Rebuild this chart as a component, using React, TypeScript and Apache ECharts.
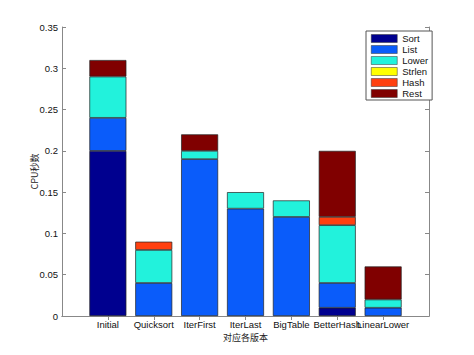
import React, { useEffect, useRef } from "react";
import * as echarts from "echarts";

const categories = ["Initial", "Quicksort", "IterFirst", "IterLast", "BigTable", "BetterHash", "LinearLower"];
const seriesNames = ["Sort", "List", "Lower", "Strlen", "Hash", "Rest"];
const sortVals = [0.2, 0, 0, 0, 0, 0.01, 0];
const listVals = [0.04, 0.04, 0.19, 0.13, 0.12, 0.03, 0.01];
const lowerVals = [0.05, 0.04, 0.01, 0.02, 0.02, 0.07, 0.01];
const strlenVals = [0, 0, 0, 0, 0, 0, 0];
const hashVals = [0, 0.01, 0, 0, 0, 0.01, 0];
const restVals = [0.02, 0, 0.02, 0, 0, 0.08, 0.04];
const yTicks = [0, 0.05, 0.1, 0.15, 0.2, 0.25, 0.3, 0.35];
const colors = ["#00008F", "#0A5CFA", "#22F2DC", "#FFFF00", "#FF4010", "#800000"];

export default function App() {
  const ref = useRef<HTMLDivElement>(null);
  useEffect(() => {
    if (!ref.current) return;
    const chart = echarts.init(ref.current, null, { renderer: "svg" });
    const cats = ["", ...categories, ""];
    const all = [sortVals, listVals, lowerVals, strlenVals, hashVals, restVals];
    const font = "Liberation Sans, Arial, sans-serif";
    const tickShow = (i: number) => i > 0 && i < cats.length - 1;
    chart.setOption({
      animation: false,
      grid: { left: 62, right: 45, top: 27, bottom: 39 },
      legend: {
        data: seriesNames,
        orient: "vertical",
        left: 366,
        top: 31,
        padding: [2, 4, 1, 5],
        itemGap: 0,
        itemWidth: 26,
        itemHeight: 8,
        borderColor: "#555",
        borderWidth: 1,
        backgroundColor: "#fff",
        icon: "rect",
        itemStyle: { borderColor: "#333", borderWidth: 0.5 },
        textStyle: { fontSize: 9.5, lineHeight: 11, color: "#111", fontFamily: font },
      },
      xAxis: [
        {
          type: "category",
          data: cats,
          boundaryGap: false,
          position: "bottom",
          name: "对应各版本",
          nameLocation: "middle",
          nameGap: 16,
          nameMoveOverlap: false,
          nameTextStyle: { fontSize: 9, lineHeight: 10, color: "#222", fontFamily: "Noto Sans CJK SC" },
          axisLine: { lineStyle: { color: "#888" } },
          axisTick: { inside: true, length: 4, interval: (i: number) => tickShow(i), lineStyle: { color: "#888" } },
          axisLabel: { margin: 3, fontSize: 9.5, lineHeight: 10, color: "#111", fontFamily: font, interval: 0 },
          splitLine: { show: false },
        },
        {
          type: "category",
          data: cats,
          boundaryGap: false,
          position: "top",
          axisLine: { lineStyle: { color: "#888" } },
          axisTick: { inside: true, length: 4, interval: (i: number) => tickShow(i), lineStyle: { color: "#888" } },
          axisLabel: { show: false },
          splitLine: { show: false },
        },
      ],
      yAxis: [
        {
          type: "value",
          min: 0,
          max: 0.35,
          interval: 0.05,
          position: "left",
          name: "CPU秒数",
          nameLocation: "middle",
          nameGap: 23,
          nameMoveOverlap: false,
          nameRotate: 90,
          nameTextStyle: { fontSize: 9, color: "#222", fontFamily: "Noto Sans CJK SC" },
          axisLine: { show: true, lineStyle: { color: "#888" } },
          axisTick: { show: true, inside: true, length: 4, lineStyle: { color: "#888" } },
          axisLabel: {
            margin: 4,
            fontSize: 9.5,
            color: "#111",
            fontFamily: font,
            formatter: (v: number) => {
              const t = yTicks.find((x) => Math.abs(x - v) < 1e-9);
              return t === undefined ? "" : String(t);
            },
          },
          splitLine: { show: false },
        },
        {
          type: "value",
          min: 0,
          max: 0.35,
          interval: 0.05,
          position: "right",
          axisLine: { show: true, lineStyle: { color: "#888" } },
          axisTick: { show: true, inside: true, length: 4, lineStyle: { color: "#888" } },
          axisLabel: { show: false },
          splitLine: { show: false },
        },
      ],
      series: seriesNames.map((name, k) => ({
        name,
        type: "bar",
        stack: "total",
        xAxisIndex: 0,
        yAxisIndex: 0,
        barWidth: 37,
        itemStyle: { color: colors[k], borderColor: "#222", borderWidth: 0.7 },
        data: [null, ...all[k].map((v) => (v === 0 ? null : v)), null],
      })),
    });
    return () => chart.dispose();
  }, []);
  return <div ref={ref} style={{ width: 474, height: 355, position: "absolute", left: 0, top: 0 }} />;
}
